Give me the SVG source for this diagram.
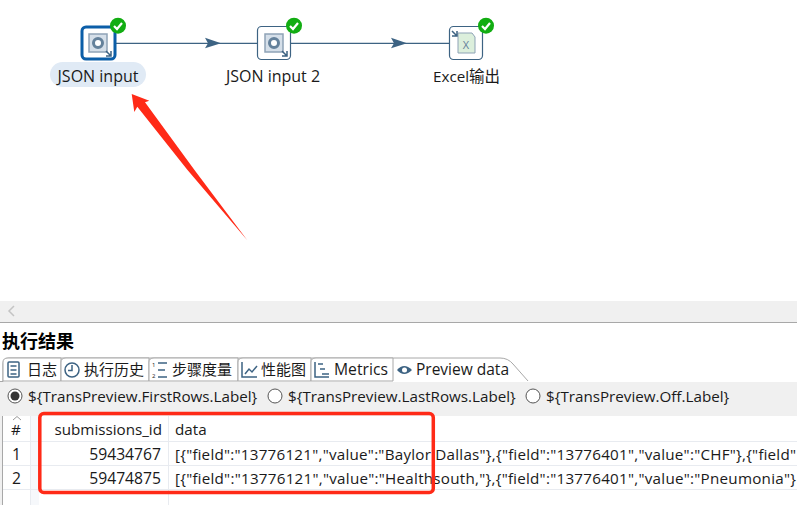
<svg xmlns="http://www.w3.org/2000/svg" width="797" height="505" viewBox="0 0 797 505">
<style>
text{font-family:"Open Sans","Noto Sans CJK SC","Noto Sans",sans-serif;font-size:15.2px;fill:#1a1a1a}
.cn{font-family:"Noto Sans CJK SC","Open Sans",sans-serif;font-size:15px}
.lbl{font-size:16px}
.num{font-size:15.7px}
.box{fill:#fff;stroke:#3d6383;stroke-width:1.2}
.conn{stroke:#3d6383;stroke-width:1.3;fill:none}
.head{fill:#3d6383}
.ok{fill:#12ad12}
.tick{fill:none;stroke:#fff;stroke-width:2.2}
.rule{stroke:#e8ebf0;stroke-width:1}
.tab{fill:#fff;stroke:#a8a8a8;stroke-width:1}
.ic{fill:none;stroke:#3d6383;stroke-width:1.5}
.radio{fill:#fff;stroke:#555;stroke-width:1}
.frame{fill:#d5dfe9;stroke:#8ea3b6;stroke-width:1.5}
.ring{fill:#fff;stroke:#64819b;stroke-width:3}
</style>
<rect width="797" height="505" fill="#fff"/>
<g id="connectors">
<path class="conn" d="M116 43.3H257"/><path class="head" d="M205 37.7L221 43.3L205 48.3L208 43.3Z"/>
<path class="conn" d="M291 43.3H449"/><path class="head" d="M391 37.7L407 43.3L391 48.3L394 43.3Z"/>
</g>
<g id="node-json-input">
<rect x="50" y="62" width="96" height="25" rx="12.5" fill="#e0eaf5"/>
<rect x="82" y="27" width="33" height="32" rx="4" fill="#fff" stroke="#0b5ea8" stroke-width="3"/>
<rect class="frame" x="89" y="34" width="18" height="18"/>
<circle class="ring" cx="98" cy="43" r="4.500"/>
<path class="ic" d="M106 51L111 56M111 51V56H106"/>
<circle class="ok" cx="118" cy="25.7" r="8"/><path class="tick" d="M114 26L117 29L122 23"/>
<text class="lbl" x="98" y="82" text-anchor="middle">JSON input</text>
</g>
<g id="node-json-input-2">
<rect class="box" x="257.500" y="26.500" width="33" height="33" rx="4"/>
<rect class="frame" x="265" y="34" width="18" height="18"/>
<circle class="ring" cx="274" cy="43" r="4.500"/>
<path class="ic" d="M282 51L287 56M287 51V56H282"/>
<circle class="ok" cx="294" cy="25.7" r="8"/><path class="tick" d="M290 26L293 29L298 23"/>
<text class="lbl" x="273" y="82" text-anchor="middle">JSON input 2</text>
</g>
<g id="node-excel">
<rect class="box" x="449.500" y="26.500" width="33" height="33" rx="4"/>
<path d="M458 33H472L475 37V53H458Z" fill="#dcefdc" stroke="#8ea3b6"/>
<text x="466" y="49" text-anchor="middle" style="font-size:11px;fill:#64819b">X</text>
<path class="ic" d="M452 31L457 36M457 31V36H452"/>
<circle class="ok" cx="486" cy="25.7" r="8"/><path class="tick" d="M482 26L485 29L490 23"/>
<text x="433" y="82">Excel<tspan class="cn" style="font-size:15.500px">输出</tspan></text>
</g>
<path id="red-arrow" d="M131.700 94L149.300 100.700L145 102.300L194.300 169.700L247.300 240.300L187.300 169.700L137.300 106.700L134.300 112Z" fill="#ff2a17"/>
<g id="scrollbar">
<rect x="0" y="301" width="797" height="21" fill="#f0f0f0"/>
<path d="M0 322.500H797" stroke="#a8a8a8"/>
<path d="M14 306L9 311L14 316" fill="none" stroke="#c4c4c4" stroke-width="1.500"/>
</g>
<text class="cn" x="2" y="348" style="font-size:18px;font-weight:700;fill:#000">执行结果</text>
<g id="tabs">
<path d="M0 381.500H3V364Q3 358 9 358H500Q508 358 513 364L528 381" fill="#fff" stroke="#a8a8a8"/>
<path class="tab" d="M3 381V362Q3 358 8 358H61V381Z"/>
<path class="tab" d="M61 381V362Q61 358 66 358H149V381Z"/>
<path class="tab" d="M149 381V362Q149 358 154 358H238V381Z"/>
<path class="tab" d="M238 381V362Q238 358 243 358H311V381Z"/>
<path class="tab" d="M311 381V362Q311 358 316 358H393V381Z"/>
<rect x="8" y="362" width="11" height="15" rx="1" class="ic"/><path class="ic" d="M10.500 366H16.500M10.500 370H16.500M10.500 374H16.500" stroke-width="1"/>
<text class="cn" x="27" y="375">日志</text>
<circle cx="72" cy="370" r="7" class="ic" stroke-width="2"/><path class="ic" d="M72 365V370.500H68"/>
<text class="cn" x="84" y="375">执行历史</text>
<path class="ic" d="M158 363H167M158 370H165M158 377H167" stroke-width="1.200"/>
<text x="152" y="367" style="font-size:6px">1</text><text x="152" y="378" style="font-size:6px">2</text>
<text class="cn" x="172" y="375">步骤度量</text>
<path class="ic" d="M242 362V377H257M245 374L249 369L252 372L257 366" stroke-width="2"/>
<text class="cn" x="261" y="375">性能图</text>
<path class="ic" d="M315 362V377H329M318 364H323M320 369H325M322 374H329" stroke-width="2"/>
<text x="334" y="375" style="font-size:15.700px">Metrics</text>
<path d="M397 370Q404 362 412 370Q404 378 397 370Z" fill="#3d6383"/><circle cx="404.500" cy="370" r="2.500" fill="#fff"/>
<text x="416" y="375" style="font-size:15.500px">Preview data</text>
</g>
<g id="options">
<rect x="0" y="382" width="797" height="34" fill="#f0f0f0"/>
<circle class="radio" cx="15" cy="396" r="7"/><circle cx="15" cy="396" r="4.500" fill="#333"/>
<text x="28" y="402">${TransPreview.FirstRows.Label}</text>
<circle class="radio" cx="275" cy="396" r="7"/>
<text x="288" y="402">${TransPreview.LastRows.Label}</text>
<circle class="radio" cx="533" cy="396" r="7"/>
<text x="546" y="402">${TransPreview.Off.Label}</text>
</g>
<g id="table">
<rect x="0" y="416" width="3" height="89" fill="#f0f0f0"/>
<path d="M2.500 416V505" stroke="#a8a8a8"/>
<rect x="30" y="416" width="9" height="89" fill="#f6f8fb"/>
<path class="rule" d="M3 441.500H797M3 465.500H797M3 489.500H797M168.500 416V505M30.500 416V505"/>
<path d="M13 420L17 416.500L21 420" fill="none" stroke="#999"/>
<text x="16" y="435" text-anchor="middle">#</text>
<text class="num" x="12" y="460">1</text>
<text class="num" x="12" y="484">2</text>
<text x="162" y="435" text-anchor="end">submissions_id</text>
<text x="175" y="435">data</text>
<text class="num" x="161" y="460" text-anchor="end">59434767</text>
<text class="num" x="161" y="484" text-anchor="end">59474875</text>
<text x="175" y="460" textLength="621" lengthAdjust="spacing">[{"field":"13776121","value":"Baylor Dallas"},{"field":"13776401","value":"CHF"},{"field"</text>
<text x="175" y="484" textLength="621" lengthAdjust="spacing">[{"field":"13776121","value":"Healthsouth,"},{"field":"13776401","value":"Pneumonia"}</text>
</g>
<rect id="red-box" x="39.800" y="413.500" width="393.500" height="79" rx="4" fill="none" stroke="#ff2a17" stroke-width="3.500"/>
</svg>
